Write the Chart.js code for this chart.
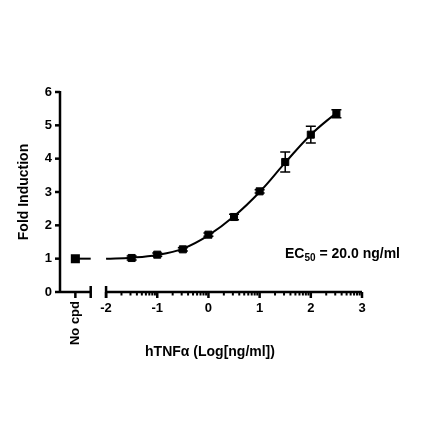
<!DOCTYPE html>
<html><head><meta charset="utf-8">
<script src="https://cdn.jsdelivr.net/npm/chart.js@4"></script>
<style>body{margin:0;background:#fff}#w{width:440px;height:440px}</style>
</head><body><div id="w"><canvas id="c"></canvas></div>
<script>
var logDose = [-1.5, -1, -0.5, 0, 0.5, 1, 1.5, 2, 2.5];
var foldInd = [1.02, 1.12, 1.28, 1.72, 2.25, 3.02, 3.9, 4.72, 5.35];
var foldErr = [0.06, 0.05, 0.05, 0.05, 0.08, 0.05, 0.3, 0.25, 0.12];
var fitX = [-2, -1.5, -1, -0.5, 0, 0.5, 1, 1.5, 2, 2.5];
var fitY = [1.0, 1.03, 1.11, 1.3, 1.7, 2.27, 3.0, 3.88, 4.72, 5.38];
var noCpd = 1.0;
var xTicks = [-2, -1, 0, 1, 2, 3];
var yTicks = [0, 1, 2, 3, 4, 5, 6];
var F = '"Liberation Sans", Arial, sans-serif';

var axesPlugin = {
  id: 'axes',
  afterDatasetsDraw: function (ch) {
    var c = ch.ctx, x = ch.scales.x, y = ch.scales.y;
    var y0 = y.getPixelForValue(0), xl = ch.chartArea.left;
    c.save();
    c.strokeStyle = '#000'; c.fillStyle = '#000'; c.lineWidth = 2.5;
    // y axis
    c.beginPath(); c.moveTo(xl, y.getPixelForValue(6) - 1); c.lineTo(xl, y0); c.stroke();
    c.font = 'bold 13px ' + F; c.textAlign = 'right'; c.textBaseline = 'middle';
    yTicks.forEach(function (v) {
      var p = y.getPixelForValue(v);
      c.beginPath(); c.moveTo(xl - 5, p); c.lineTo(xl, p); c.stroke();
      c.fillText(String(v), xl - 8, p);
    });
    // x axis segments
    var a = x.getPixelForValue(-2.3), b = x.getPixelForValue(-2), e = x.getPixelForValue(3);
    c.beginPath(); c.moveTo(xl, y0); c.lineTo(a, y0); c.stroke();
    c.beginPath(); c.moveTo(a, y0 - 6); c.lineTo(a, y0 + 6); c.stroke();
    c.beginPath(); c.moveTo(b, y0); c.lineTo(e, y0); c.stroke();
    c.beginPath(); c.moveTo(b, y0 - 6); c.lineTo(b, y0 + 6); c.stroke();
    var pn = x.getPixelForValue(-2.6);
    c.beginPath(); c.moveTo(pn, y0); c.lineTo(pn, y0 + 6); c.stroke();
    c.textAlign = 'center'; c.textBaseline = 'top';
    xTicks.forEach(function (v) {
      var p = x.getPixelForValue(v);
      c.beginPath(); c.moveTo(p, y0); c.lineTo(p, y0 + 6); c.stroke();
      c.fillText(v < 0 ? '-' + Math.abs(v) : String(v), p, y0 + 10);
    });
    c.lineWidth = 2;
    for (var d = -2; d < 3; d++) {
      for (var m = 2; m < 10; m++) {
        var p = x.getPixelForValue(d + Math.log10(m));
        c.beginPath(); c.moveTo(p, y0); c.lineTo(p, y0 + 3.5); c.stroke();
      }
    }
    // No cpd label
    c.save(); c.translate(pn, y0 + 9); c.rotate(-Math.PI / 2);
    c.textAlign = 'right'; c.textBaseline = 'middle'; c.fillText('No cpd', 0, 0); c.restore();
    // error bars
    c.lineWidth = 1.5;
    logDose.forEach(function (v, i) {
      var px = x.getPixelForValue(v);
      var t = y.getPixelForValue(foldInd[i] + foldErr[i]), bo = y.getPixelForValue(foldInd[i] - foldErr[i]);
      c.beginPath(); c.moveTo(px, t); c.lineTo(px, bo);
      c.moveTo(px - 5, t); c.lineTo(px + 5, t); c.moveTo(px - 5, bo); c.lineTo(px + 5, bo); c.stroke();
    });
    // titles
    c.font = 'bold 14px ' + F; c.textAlign = 'center'; c.textBaseline = 'middle';
    c.fillText('hTNF\u03b1 (Log[ng/ml])', 210, 352);
    c.save(); c.translate(24, 192); c.rotate(-Math.PI / 2); c.fillText('Fold Induction', 0, 0); c.restore();
    c.textAlign = 'left';
    c.fillText('EC', 285, 254);
    var w = c.measureText('EC').width;
    c.font = 'bold 10px ' + F; c.fillText('50', 285 + w, 258);
    var w2 = c.measureText('50').width;
    c.font = 'bold 14px ' + F; c.fillText(' = 20.0 ng/ml', 285 + w + w2, 254);
    c.restore();
  }
};

new Chart(document.getElementById('c'), {
  type: 'scatter',
  data: {
    datasets: [
      { data: fitX.map(function (v, i) { return { x: v, y: fitY[i] }; }), showLine: true,
        borderColor: '#000', borderWidth: 2, tension: 0.4, pointRadius: 0 },
      { data: logDose.map(function (v, i) { return { x: v, y: foldInd[i] }; }),
        pointStyle: 'rect', pointRadius: 5, backgroundColor: '#000', borderColor: '#000' },
      { data: [{ x: -2.6, y: noCpd }, { x: -2.3, y: noCpd }], showLine: true, borderColor: '#000', borderWidth: 2,
        pointStyle: 'rect', pointRadius: [5, 0], backgroundColor: '#000' }
    ]
  },
  options: {
    responsive: true, maintainAspectRatio: false, animation: false,
    layout: { padding: { left: 60, right: 78, top: 92, bottom: 148 } },
    plugins: { legend: { display: false }, tooltip: { enabled: false } },
    scales: {
      x: { type: 'linear', min: -2.9, max: 3, display: false },
      y: { min: 0, max: 6, display: false }
    }
  },
  plugins: [axesPlugin]
});
</script></body></html>
